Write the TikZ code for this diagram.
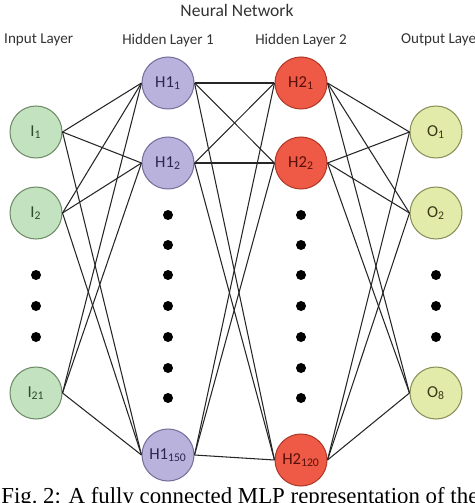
\documentclass[tikz,border=0pt]{standalone}
\usepackage{fontspec}
\setmainfont{Liberation Serif}
\newfontfamily\netfont{Carlito}
\definecolor{ingreen}{HTML}{C3E2C0}
\definecolor{inedge}{HTML}{6F8C68}
\definecolor{intext}{HTML}{2E4A2A}
\definecolor{hidlila}{HTML}{B9B2DD}
\definecolor{hidedge}{HTML}{77709A}
\definecolor{hidtext}{HTML}{2E2650}
\definecolor{hidred}{HTML}{EE5A45}
\definecolor{rededge}{HTML}{B03A2A}
\definecolor{redtext}{HTML}{5A1008}
\definecolor{outyel}{HTML}{E3EBAA}
\definecolor{outedge}{HTML}{8A8F5A}
\definecolor{outtext}{HTML}{3A3A1A}

\begin{document}
\begin{tikzpicture}[x=0.02cm,y=-0.02cm,
		neuron/.style={circle,minimum size=1.04cm,inner sep=0pt,line width=0.6pt,
			font=\netfont\fontsize{9.5}{10}\selectfont},
		innode/.style={neuron,fill=ingreen,draw=inedge,text=intext},
		hidnode/.style={neuron,fill=hidlila,draw=hidedge,text=hidtext},
		rednode/.style={neuron,fill=hidred,draw=rededge,text=redtext},
		outnode/.style={neuron,fill=outyel,draw=outedge,text=outtext},
		layertitle/.style={font=\netfont\fontsize{8.6}{10}\selectfont,text=black!80},
		link/.style={line width=0.6pt,black!85}]
				\useasboundingbox (0,0) rectangle (474,503);
				
				\node[font=\netfont\fontsize{10}{12}\selectfont,text=black!80] (title) at (237,10) {Neural Network};
				\node[layertitle,anchor=west] (inlab) at (-2,40) {Input Layer};
				\node[layertitle] (h1lab) at (168,40) {Hidden Layer 1};
				\node[layertitle] (h2lab) at (301,40) {Hidden Layer 2};
				\node[layertitle,anchor=west] (outlab) at (395,40) {Output Layer};
				
				\node[innode] (I1) at (36,132) {I\textsubscript{1}};
				\node[innode] (I2) at (36,213) {I\textsubscript{2}};
				\node[innode] (I21) at (36,393) {I\textsubscript{21}};
				
				\node[hidnode] (Ha1) at (168,83) {H1\textsubscript{1}};
				\node[hidnode] (Ha2) at (168,163) {H1\textsubscript{2}};
				\node[hidnode] (Ha150) at (168,455) {H1\textsubscript{150}};
				
				\node[rednode] (Hb1) at (301,83) {H2\textsubscript{1}};
				\node[rednode] (Hb2) at (301,163) {H2\textsubscript{2}};
				\node[rednode] (Hb120) at (301,460) {H2\textsubscript{120}};
				
				\node[outnode] (O1) at (436,132) {O\textsubscript{1}};
				\node[outnode] (O2) at (436,213) {O\textsubscript{2}};
				\node[outnode] (O8) at (436,393) {O\textsubscript{8}};
				
				\foreach \a in {I1,I2,I21}{
					\foreach \b in {Ha1,Ha2,Ha150}{
						\draw[link] (\a.east) -- (\b.west);}}
				\foreach \a in {Ha1,Ha2,Ha150}{
					\foreach \b in {Hb1,Hb2,Hb120}{
						\draw[link] (\a.east) -- (\b.west);}}
				\foreach \a in {Hb1,Hb2,Hb120}{
					\foreach \b in {O1,O2,O8}{
						\draw[link] (\a.east) -- (\b.west);}}
				
				\foreach \y in {275,306,337}{
					\fill (36,\y) circle (5);
					\fill (436,\y) circle (5);}
				\foreach \y in {215,245,275,306,337,368,398}{
					\fill (168,\y) circle (5);
					\fill (301,\y) circle (5);}
				
				\node[anchor=base west,inner sep=0pt,font=\fontsize{13}{15}\selectfont] (caption) at (1,503)
				{Fig.~2: A fully connected MLP representation of the proposed};
			\end{tikzpicture}
\end{document}
